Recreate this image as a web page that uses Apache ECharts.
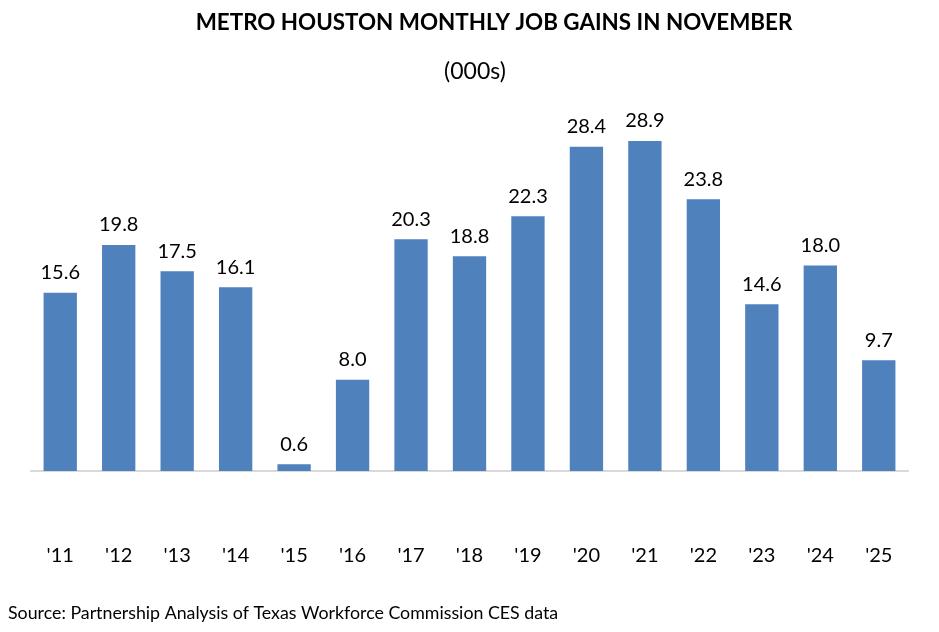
<!DOCTYPE html>
<html><head><meta charset="utf-8">
<script src="https://cdn.jsdelivr.net/npm/echarts@6/dist/echarts.min.js"></script>
<style>html,body{margin:0;padding:0;background:#fff}#c{width:939px;height:632px}</style>
</head><body><div id="c"></div>
<script>
const categories = ["'11","'12","'13","'14","'15","'16","'17","'18","'19","'20","'21","'22","'23","'24","'25"];
const jobGains = [15.6,19.8,17.5,16.1,0.6,8.0,20.3,18.8,22.3,28.4,28.9,23.8,14.6,18.0,9.7];
const titleText = 'METRO HOUSTON MONTHLY JOB GAINS IN NOVEMBER';
const subtitleText = '(000s)';
const sourceText = 'Source: Partnership Analysis of Texas Workforce Commission CES data';

const chart = echarts.init(document.getElementById('c'));
const F = 'Lato, "Open Sans", sans-serif';
chart.setOption({
  animation: false,
  textStyle: {fontFamily: F},
  title: [
    {text: titleText, left: 489, top: 7, textAlign: 'center',
     textStyle: {fontFamily: F, fontSize: 22.4, fontWeight: 'bold', color: '#000'}},
    {text: subtitleText, left: 470, top: 55, textAlign: 'center',
     textStyle: {fontFamily: F, fontSize: 23, fontWeight: 'normal', color: '#000'}},
    {text: sourceText, left: 3, top: 599,
     textStyle: {fontFamily: F, fontSize: 17.8, fontWeight: 'normal', color: '#000'}}
  ],
  grid: {left: 31, right: 31, top: 128.4, bottom: 161, containLabel: false},
  xAxis: {
    type: 'category', data: categories,
    axisLine: {lineStyle: {color: '#D9D9D9', width: 2}},
    axisTick: {show: false},
    axisLabel: {margin: 75, fontSize: 20, color: '#000', fontFamily: F}
  },
  yAxis: {type: 'value', min: 0, max: 30, show: false, splitLine: {show: false}},
  series: [{
    type: 'bar', data: jobGains, barWidth: '57%',
    itemStyle: {color: '#4F81BD'},
    label: {show: true, position: 'top', distance: 10, fontSize: 20, color: '#000', fontFamily: F,
      formatter: p => p.value.toFixed(1)}
  }]
});
</script></body></html>
